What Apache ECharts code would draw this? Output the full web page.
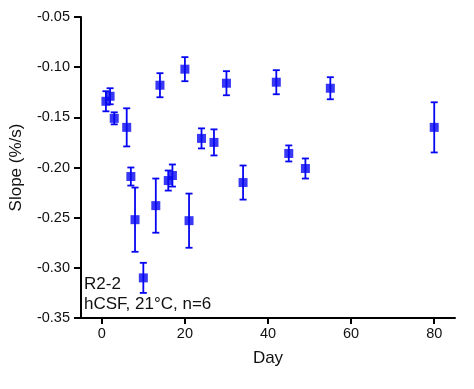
<!DOCTYPE html>
<html>
<head>
<meta charset="utf-8">
<script src="https://cdn.jsdelivr.net/npm/echarts@6/dist/echarts.min.js"></script>
<style>html,body{margin:0;padding:0;background:#fff}#c{width:474px;height:389px}</style>
</head>
<body>
<div id="c"></div>
<script>
const days = [1,2,3,6,7,8,10,13,14,16,17,20,21,24,27,30,34,42,45,49,55,80];
const slopes = [-0.134,-0.129,-0.151,-0.160,-0.209,-0.252,-0.310,-0.238,-0.118,-0.213,-0.208,-0.102,-0.253,-0.171,-0.175,-0.116,-0.215,-0.115,-0.186,-0.201,-0.121,-0.160];
const errors = [0.010,0.008,0.006,0.019,0.009,0.032,0.015,0.027,0.012,0.010,0.011,0.012,0.027,0.010,0.013,0.012,0.017,0.012,0.008,0.010,0.011,0.025];
const xTicks = [0,20,40,60,80];
const yTicks = [-0.35,-0.30,-0.25,-0.20,-0.15,-0.10,-0.05];
const annotation = ['R2-2','hCSF, 21°C, n=6'];

const FONT = '"Liberation Sans", Arial, sans-serif';
const BLUE = '#0606f2';
const chart = echarts.init(document.getElementById('c'), null, {renderer:'canvas'});
const pts = days.map((d,i)=>[d, slopes[i]]);
const errData = days.map((d,i)=>[d, slopes[i]-errors[i], slopes[i]+errors[i]]);
chart.setOption({
  animation:false,
  grid:{left:79,right:19,top:17,bottom:71,containLabel:false},
  xAxis:{
    type:'value',min:-5,max:85,interval:5,
    name:'Day',nameLocation:'middle',nameGap:32,
    nameTextStyle:{fontFamily:FONT,fontSize:17,color:'#111'},
    axisLine:{onZero:false,lineStyle:{color:'#000',width:2}},
    axisTick:{show:true,length:6,lineStyle:{color:'#000',width:2},customValues:xTicks},
    axisLabel:{fontFamily:FONT,fontSize:14.5,color:'#111',margin:8,customValues:xTicks},
    splitLine:{show:false}
  },
  yAxis:{
    type:'value',min:-0.35,max:-0.05,interval:0.05,
    name:'Slope (%/s)',nameLocation:'middle',nameGap:56,
    nameTextStyle:{fontFamily:FONT,fontSize:17,color:'#111'},
    axisLine:{show:true,onZero:false,lineStyle:{color:'#000',width:2}},
    axisTick:{show:true,length:7,lineStyle:{color:'#000',width:2},customValues:yTicks},
    axisLabel:{fontFamily:FONT,fontSize:14.5,color:'#111',margin:11,customValues:yTicks,formatter:v=>v.toFixed(2)},
    splitLine:{show:false}
  },
  graphic:[
    {type:'text',left:84,top:276,style:{text:annotation[0],font:'17px '+FONT,fill:'#111'}},
    {type:'text',left:84,top:296,style:{text:annotation[1],font:'17px '+FONT,fill:'#111'}}
  ],
  series:[
    {
      type:'custom',
      data:errData,
      renderItem:function(params,api){
        const x=api.value(0);
        const lo=api.coord([x,api.value(1)]);
        const hi=api.coord([x,api.value(2)]);
        const w=3.5;
        const st={stroke:BLUE,lineWidth:1.8};
        return {type:'group',children:[
          {type:'line',shape:{x1:lo[0],y1:lo[1],x2:hi[0],y2:hi[1]},style:st},
          {type:'line',shape:{x1:lo[0]-w,y1:lo[1],x2:lo[0]+w,y2:lo[1]},style:st},
          {type:'line',shape:{x1:hi[0]-w,y1:hi[1],x2:hi[0]+w,y2:hi[1]},style:st}
        ]};
      },
      z:2
    },
    {
      type:'scatter',data:pts,symbol:'rect',symbolSize:9,
      itemStyle:{color:BLUE},z:3
    }
  ]
});
</script>
</body>
</html>
